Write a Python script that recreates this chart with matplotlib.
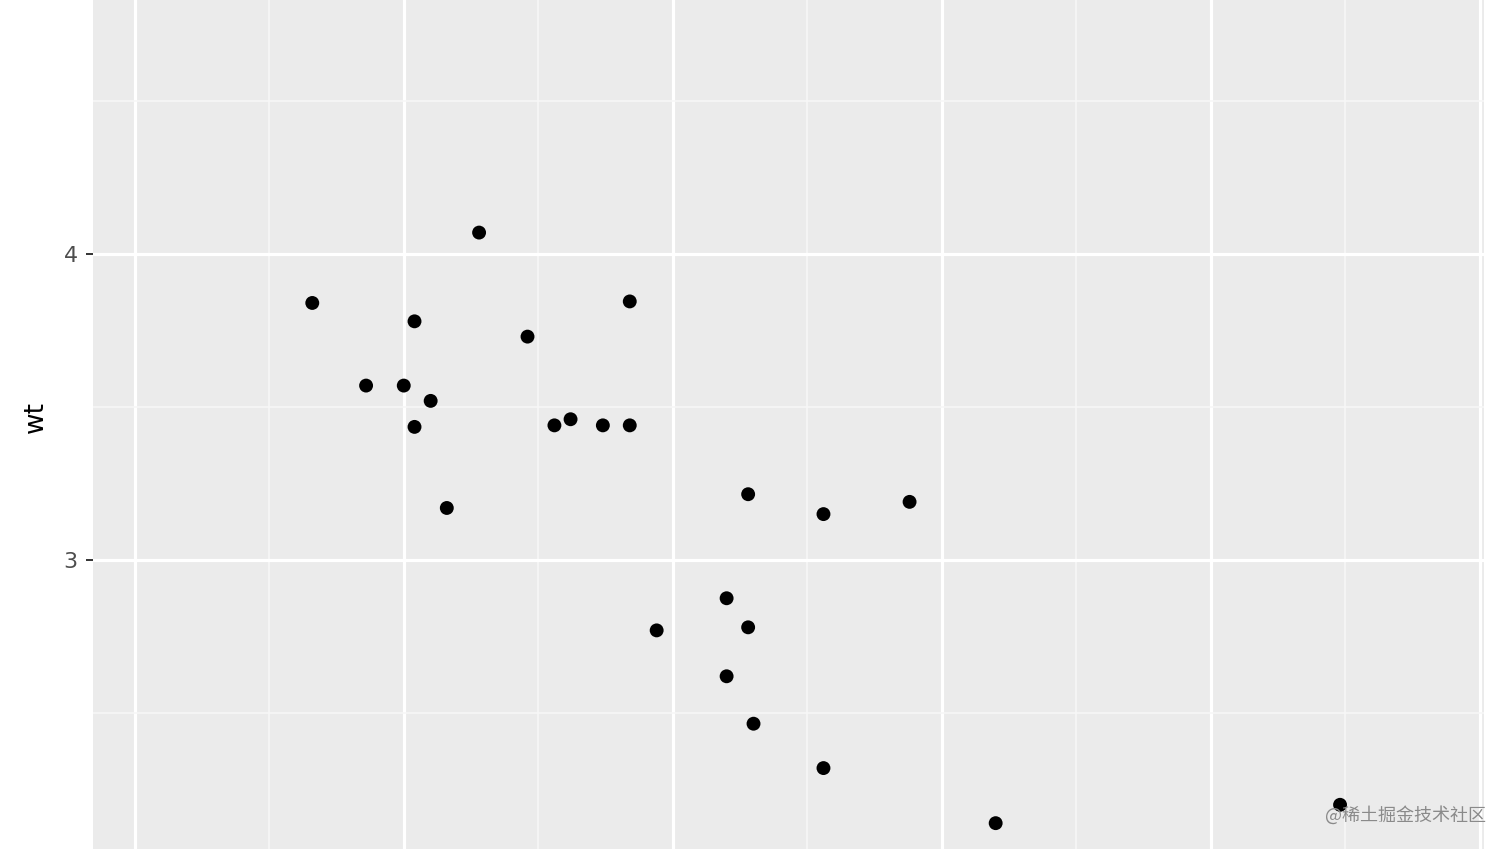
import matplotlib
matplotlib.use("Agg")
import matplotlib.pyplot as plt
from matplotlib.ticker import MultipleLocator

# mtcars: mpg (x) vs wt (y)
mpg = [21.0, 21.0, 22.8, 21.4, 18.7, 18.1, 14.3, 24.4, 22.8, 19.2, 17.8,
       16.4, 17.3, 15.2, 10.4, 10.4, 14.7, 32.4, 30.4, 33.9, 21.5, 15.5,
       15.2, 13.3, 19.2, 27.3, 26.0, 30.4, 15.8, 19.7, 15.0, 21.4]
wt = [2.620, 2.875, 2.320, 3.215, 3.440, 3.460, 3.570, 3.190, 3.150, 3.440, 3.440,
      4.070, 3.730, 3.780, 5.250, 5.424, 5.345, 2.200, 1.615, 1.835, 2.465, 3.520,
      3.435, 3.840, 3.845, 1.935, 2.140, 1.513, 3.170, 2.770, 3.570, 2.780]
y_ticks = [3, 4]
y_ticklabels = ["3", "4"]

W, H = 1509, 849
fig = plt.figure(figsize=(W / 100, H / 100), dpi=100)
ax = fig.add_axes([93 / W, 0, (1484 - 93) / W, 1])

bg = "#EBEBEB"
ax.set_facecolor(bg)
for s in ax.spines.values():
    s.set_visible(False)

# ggplot-like x range (data range + 5%)
span = max(mpg) - min(mpg)
ax.set_xlim(min(mpg) - 0.05 * span, max(mpg) + 0.05 * span)
# the picture is a crop: only part of the y range is visible
ax.set_ylim(3 - 289 / 306, 4 + 254 / 306)

ax.xaxis.set_major_locator(MultipleLocator(5))
ax.xaxis.set_minor_locator(MultipleLocator(2.5))
ax.yaxis.set_major_locator(MultipleLocator(1))
ax.yaxis.set_minor_locator(MultipleLocator(0.5))
ax.grid(which="major", color="white", linewidth=2.3)
ax.grid(which="minor", color="#F7F7F7", linewidth=1.1)
ax.set_axisbelow(True)

ax.scatter(mpg, wt, s=100, color="black", edgecolors="none", zorder=3)

ax.set_yticks(y_ticks)
ax.set_yticklabels(y_ticklabels)
ax.tick_params(axis="y", which="major", length=5, width=1.4, color="#333333",
               labelsize=16, labelcolor="#4D4D4D", pad=6)
ax.tick_params(axis="y", which="minor", length=0)
ax.tick_params(axis="x", which="both", length=0, labelbottom=False)

# y title sits at the centre of the full (uncropped) panel
wt_lo = min(wt) - 0.05 * (max(wt) - min(wt))
wt_hi = max(wt) + 0.05 * (max(wt) - min(wt))
ylo, yhi = ax.get_ylim()
ax.set_ylabel("wt", fontsize=19, color="black")
ax.yaxis.set_label_coords(-44 / (1484 - 93), ((wt_lo + wt_hi) / 2 - ylo) / (yhi - ylo))

fig.text(1486 / W, 1 - 815 / H, "@稀土掘金技术社区", ha="right", va="center",
         fontsize=13, color="#8A8A8A",
         family=["Noto Sans CJK SC", "DejaVu Sans"])

fig.savefig("out.png", dpi=100, facecolor="white")
